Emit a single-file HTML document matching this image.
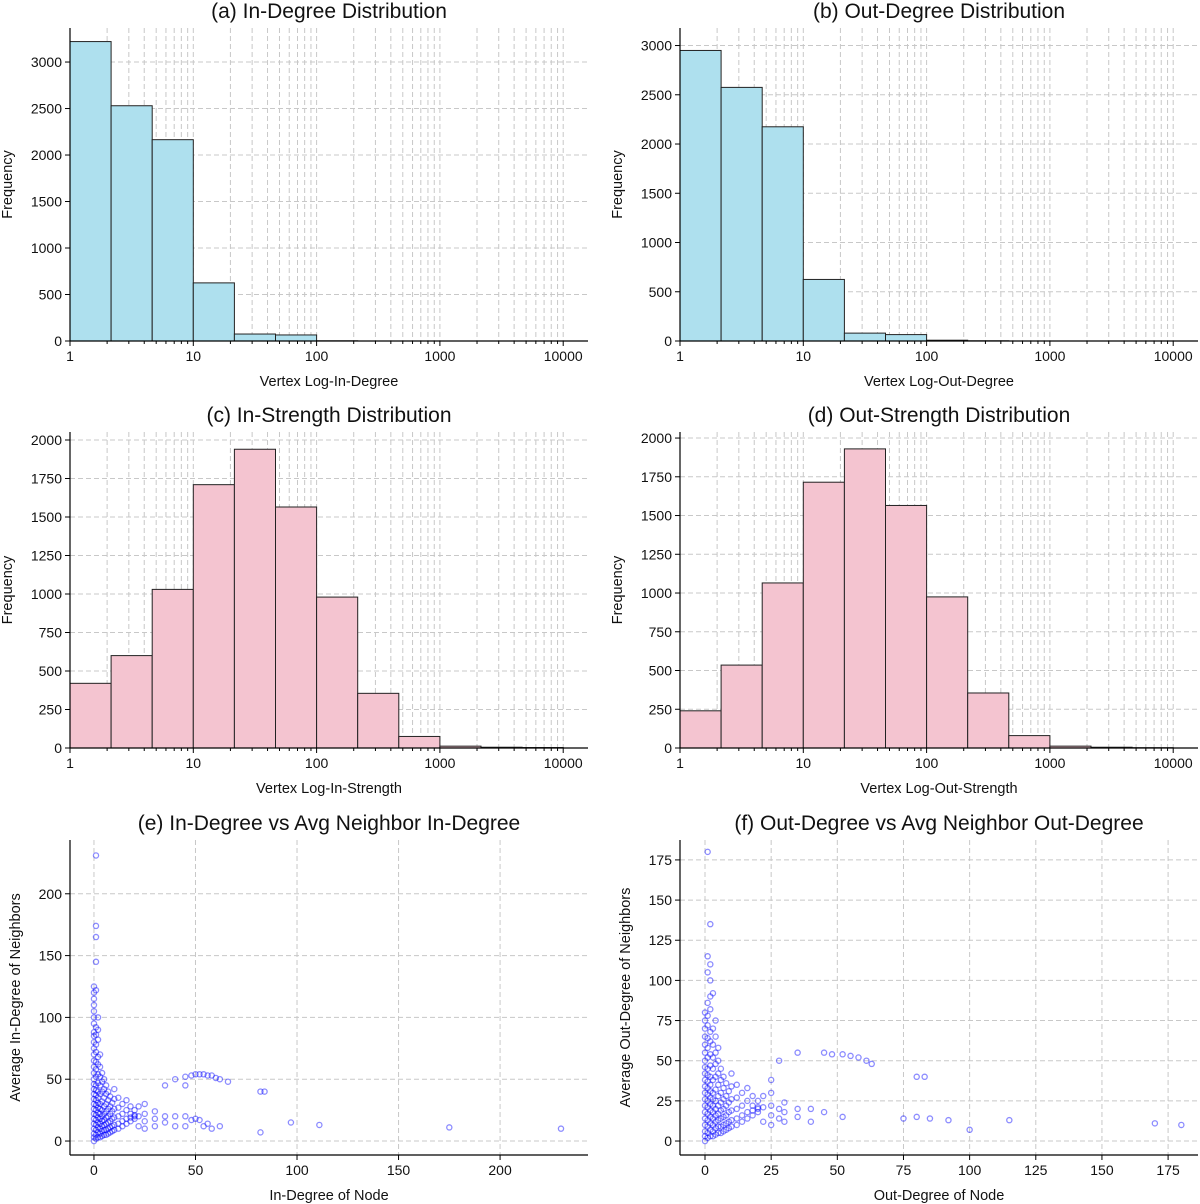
<!DOCTYPE html>
<html><head><meta charset="utf-8">
<style>
html,body{margin:0;padding:0;background:#fff;}
svg{display:block;font-family:"Liberation Sans","DejaVu Sans",sans-serif;}
</style></head>
<body>
<svg id="fig" width="1200" height="1204" viewBox="0 0 1200 1204" xmlns="http://www.w3.org/2000/svg"></svg>
<script>
// ---------- data ----------
const binEdgesExp = [0,1,2,3,4,5,6,7,8,9,10,11,12]; // bin edges as 10^(k/3)
const inDegreeCounts  = [3220,2530,2165,625,75,65,2,0,0,0,0,0];
const outDegreeCounts = [2950,2575,2175,625,80,65,8,2,0,0,0,0];
const inStrengthCounts  = [420,600,1030,1710,1940,1565,980,355,75,12,5,3];
const outStrengthCounts = [240,535,1065,1715,1930,1565,975,355,80,12,5,2];
const logTickLabels = ["1","10","100","1000","10000"];
const degreeYTicks = [0,500,1000,1500,2000,2500,3000];
const strengthYTicks = [0,250,500,750,1000,1250,1500,1750,2000];
const eXTicks = [0,50,100,150,200];
const eYTicks = [0,50,100,150,200];
const fXTicks = [0,25,50,75,100,125,150,175];
const fYTicks = [0,25,50,75,100,125,150,175];
// scatter data: [x, [y values at that x]]
const inDegCols = [
 [0,[0,3,6,10,14,18,22,26,30,34,38,42,46,50,55,60,65,70,75,80,85,88,95,100,105,110,115,120,125]],
 [1,[2,5,9,13,17,21,25,29,33,37,41,45,52,58,64,72,78,86,92,122,145,165,174,231]],
 [2,[3,7,11,15,19,23,27,31,35,40,47,54,62,68,82,90,100]],
 [3,[3,6,10,14,18,22,26,30,38,45,52,60,70]],
 [4,[4,8,12,16,20,25,32,40,48,55]],
 [5,[5,9,13,17,22,28,35,42,50]],
 [6,[5,9,14,19,24,30,38,45]],
 [7,[6,10,15,20,26,33,40]],
 [8,[7,11,16,22,28,36]],
 [9,[8,12,18,24,31]],
 [10,[9,13,19,26,34,42]],
 [12,[10,14,20,27,35]],
 [14,[12,16,22,30]],
 [16,[14,18,25,33]],
 [18,[16,19,22,28]],
 [20,[18,20,21,25]],
 [22,[12,20,28]],
 [25,[10,16,22,30]],
 [30,[12,18,24]],
 [35,[15,20,45]],
 [40,[12,20,50]],
 [45,[12,20,45,52]],
 [48,[53,17]],
 [50,[54,18]],
 [52,[54,17]],
 [54,[54,12]],
 [56,[53,14]],
 [58,[53,10]],
 [60,[51]],
 [62,[50,12]],
 [66,[48]],
 [82,[40,7]],
 [84,[40]],
 [97,[15]],
 [111,[13]],
 [175,[11]],
 [230,[10]]
];
const outDegCols = [
 [0,[0,3,6,10,14,18,22,26,30,34,38,42,46,50,55,60,65,70,75,80]],
 [1,[2,5,9,13,17,21,25,29,33,37,41,45,52,58,64,72,78,86,105,115,180]],
 [2,[3,7,11,15,19,23,27,31,35,40,47,54,62,68,82,90,100,110,135]],
 [3,[3,6,10,14,18,22,26,30,38,45,52,60,70,92]],
 [4,[4,8,12,16,20,25,32,40,48,55,65,75]],
 [5,[5,9,13,17,22,28,35,42,50,58]],
 [6,[5,9,14,19,24,30,38,45]],
 [7,[6,10,15,20,26,33,40]],
 [8,[7,11,16,22,28,36]],
 [9,[8,12,18,24,31]],
 [10,[9,13,19,26,34,42]],
 [12,[10,14,20,27,35]],
 [14,[12,16,22,30]],
 [16,[14,18,25,33]],
 [18,[16,19,22,28]],
 [20,[18,20,21,25]],
 [22,[12,21,28]],
 [25,[10,16,22,30,38]],
 [28,[14,20,50]],
 [30,[12,18,24]],
 [35,[15,20,55]],
 [40,[12,20]],
 [45,[18,55]],
 [48,[54]],
 [52,[54,15]],
 [55,[53]],
 [58,[52]],
 [61,[50]],
 [63,[48]],
 [75,[14]],
 [80,[15,40]],
 [83,[40]],
 [85,[14]],
 [92,[13]],
 [100,[7]],
 [115,[13]],
 [170,[11]],
 [180,[10]]
];

// ---------- helpers ----------
const NS = "http://www.w3.org/2000/svg";
const svg = document.getElementById("fig");
function mk(tag, attrs, parent){
  const e = document.createElementNS(NS, tag);
  for (const k in attrs) e.setAttribute(k, attrs[k]);
  (parent||svg).appendChild(e);
  return e;
}
function txt(s, attrs, parent){ const t = mk("text", attrs, parent); t.textContent = s; return t; }
const GRID = {stroke:"#c8c8c8","stroke-width":1,"stroke-dasharray":"5,3"};

function axesFrame(g,L,R,T,B){
  const s1 = mk("line",{x1:L,y1:T,x2:L,y2:B,stroke:"#000","stroke-width":1.2},g);
  
  
  const s2 = mk("line",{x1:L,y1:B,x2:R,y2:B,stroke:"#000","stroke-width":1.2},g);
  
  
}
function labels(g,L,R,T,B,title,xl,yl,ylx){
  const t = txt(title,{x:(L+R)/2,y:T-10,"text-anchor":"middle","font-size":21,fill:"#111"},g);
  
  
  const x = txt(xl,{x:(L+R)/2,y:B+45,"text-anchor":"middle","font-size":14.5,fill:"#111"},g);
  
  
  const cy=(T+B)/2;
  const y = txt(yl,{x:ylx,y:cy,"text-anchor":"middle","font-size":14.5,fill:"#111",transform:`rotate(-90 ${ylx} ${cy})`},g);
  
  
}

function histPanel(name,L,R,T,B,ymax,counts,yticks,color,title,xl,yl){
  const g = mk("g",{});
  
  
  const dec = 123.3;
  const xs = v => L + Math.log10(v)*dec;
  const ys = v => B - v/ymax*(B-T);
  for (let d=0; d<5; d++){
    for (let m=1; m<10; m++){
      const v = m*Math.pow(10,d), X = xs(v);
      if (X>R) continue;
      const gl = mk("line",Object.assign({x1:X,y1:T,x2:X,y2:B},GRID),g);
      
      
    }
  }
  yticks.forEach(v=>{
    const Y=ys(v);
    const gl = mk("line",Object.assign({x1:L,y1:Y,x2:R,y2:Y},GRID),g);
    
    
  });
  counts.forEach((c,i)=>{
    if (c<=0) return;
    const x0 = xs(Math.pow(10,binEdgesExp[i]/3)), x1 = xs(Math.pow(10,binEdgesExp[i+1]/3));
    const r = mk("rect",{x:x0,y:ys(c),width:x1-x0,height:B-ys(c),fill:color,stroke:"#222","stroke-width":1},g);
    
    
  });
  axesFrame(g,L,R,T,B);
  logTickLabels.forEach((s,i)=>{
    const X = xs(Math.pow(10,i));
    mk("line",{x1:X,y1:B,x2:X,y2:B+5,stroke:"#000"},g);
    for (let m=2;m<10;m++){ const Xm=xs(m*Math.pow(10,i)); if(Xm<=R) mk("line",{x1:Xm,y1:B,x2:Xm,y2:B+3,stroke:"#000"},g); }
    const t = txt(s,{x:X,y:B+20,"text-anchor":"middle","font-size":14,fill:"#111"},g);
    
    
  });
  yticks.forEach(v=>{
    const Y=ys(v);
    mk("line",{x1:L-5,y1:Y,x2:L,y2:Y,stroke:"#000"},g);
    const t = txt(String(v),{x:L-8,y:Y+5,"text-anchor":"end","font-size":14,fill:"#111"},g);
    
    
  });
  labels(g,L,R,T,B,title,xl,yl,L-58);
}

function scatterPanel(name,L,R,T,B,x0,x1,y0,y1,cols,xt,yt,title,xl,yl,ylx){
  const g = mk("g",{});
  
  
  const xs = v => L + (v-x0)/(x1-x0)*(R-L);
  const ys = v => B - (v-y0)/(y1-y0)*(B-T);
  xt.forEach(v=>{ const X=xs(v);
    const gl=mk("line",Object.assign({x1:X,y1:T,x2:X,y2:B},GRID),g);
    
    
  });
  yt.forEach(v=>{ const Y=ys(v);
    const gl=mk("line",Object.assign({x1:L,y1:Y,x2:R,y2:Y},GRID),g);
    
    
  });
  cols.forEach(col=>{
    const xv = col[0];
    col[1].forEach(yv=>{
      const c = mk("circle",{cx:xs(xv),cy:ys(yv),r:2.6,fill:"none",stroke:"rgba(0,0,255,0.45)","stroke-width":1.3},g);
      
      
    });
  });
  axesFrame(g,L,R,T,B);
  xt.forEach(v=>{ const X=xs(v);
    mk("line",{x1:X,y1:B,x2:X,y2:B+5,stroke:"#000"},g);
    const t=txt(String(v),{x:X,y:B+20,"text-anchor":"middle","font-size":14,fill:"#111"},g);
    
    
  });
  yt.forEach(v=>{ const Y=ys(v);
    mk("line",{x1:L-5,y1:Y,x2:L,y2:Y,stroke:"#000"},g);
    const t=txt(String(v),{x:L-8,y:Y+5,"text-anchor":"end","font-size":14,fill:"#111"},g);
    
    
  });
  labels(g,L,R,T,B,title,xl,yl,ylx);
}

const BLUE="#aee0ee", PINK="#f4c4d0";
histPanel("in-degree-histogram",70,588,28,341,3366,inDegreeCounts,degreeYTicks,BLUE,"(a) In-Degree Distribution","Vertex Log-In-Degree","Frequency");
histPanel("out-degree-histogram",680,1198,28,341,3178,outDegreeCounts,degreeYTicks,BLUE,"(b) Out-Degree Distribution","Vertex Log-Out-Degree","Frequency");
histPanel("in-strength-histogram",70,588,432,748,2052,inStrengthCounts,strengthYTicks,PINK,"(c) In-Strength Distribution","Vertex Log-In-Strength","Frequency");
histPanel("out-strength-histogram",680,1198,432,748,2039,outStrengthCounts,strengthYTicks,PINK,"(d) Out-Strength Distribution","Vertex Log-Out-Strength","Frequency");
scatterPanel("in-degree-scatter",70,588,840,1155,-11.8,243.3,-11.3,243.5,inDegCols,eXTicks,eYTicks,"(e) In-Degree vs Avg Neighbor In-Degree","In-Degree of Node","Average In-Degree of Neighbors",20);
scatterPanel("out-degree-scatter",680,1198,840,1155,-9.45,186.3,-8.7,187.4,outDegCols,fXTicks,fYTicks,"(f) Out-Degree vs Avg Neighbor Out-Degree","Out-Degree of Node","Average Out-Degree of Neighbors",630);
</script>
</body></html>
